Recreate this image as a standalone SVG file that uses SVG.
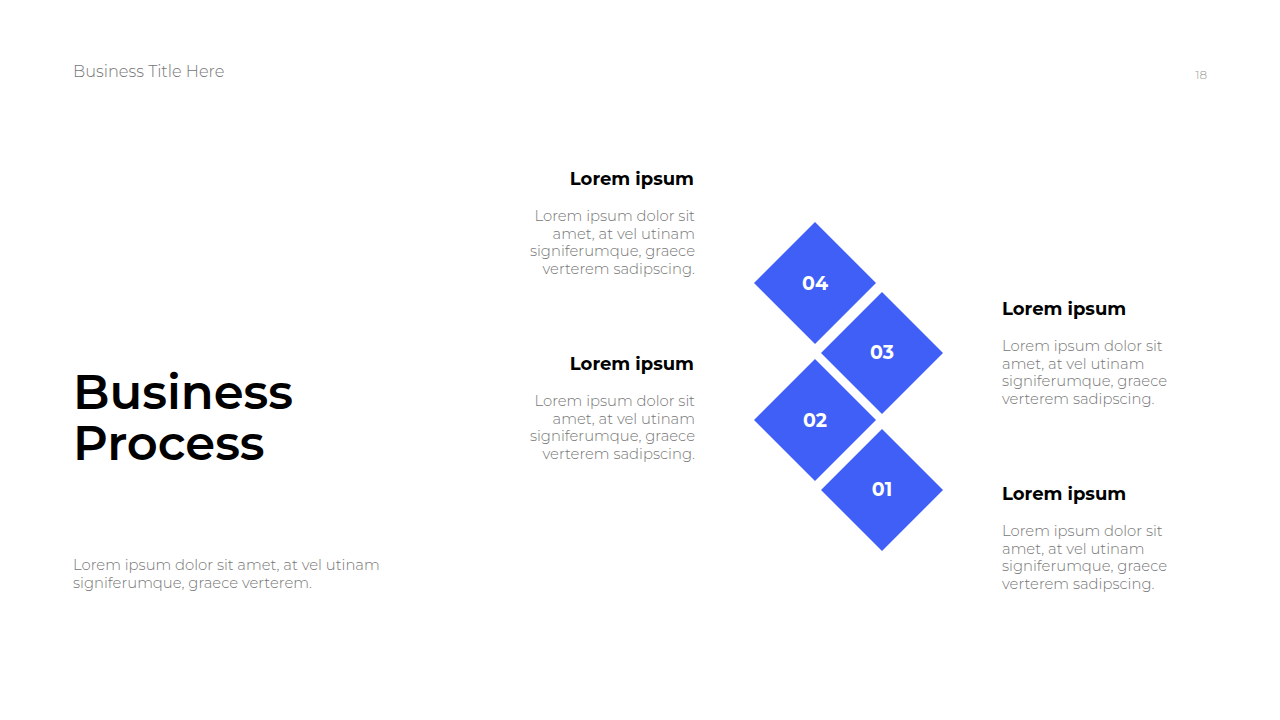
<svg xmlns="http://www.w3.org/2000/svg" width="1280" height="720" viewBox="0 0 1280 720">
<style>
.f{font-family:Montserrat,"Open Sans","Noto Sans","Liberation Sans",sans-serif}
.body{font-size:14.8px;font-weight:300;fill:#767676}
.head{font-size:18px;font-weight:700;fill:#000}
.num{font-size:19px;font-weight:700;fill:#fff;text-anchor:middle}
.dia{fill:#3f5ff6}
.r{text-anchor:end}
</style>
<rect width="1280" height="720" fill="#fff"/>
<text class="f" x="73" y="77" font-size="16.2" font-weight="300" fill="#767676">Business Title Here</text>
<text class="f" x="1207" y="79" font-size="12" font-weight="300" fill="#9a9a9a" text-anchor="end">18</text>
<g id="title">
<text class="f" x="73" y="409" font-size="48" font-weight="600" fill="#000">Business</text>
<text class="f" x="73" y="460" font-size="48" font-weight="600" fill="#000">Process</text>
</g>
<text class="f body" x="73" y="570">Lorem ipsum dolor sit amet, at vel utinam</text>
<text class="f body" x="73" y="588">signiferumque, graece verterem.</text>
<g id="connectors"></g>
<g id="step04">
<polygon class="dia" points="815,222 876,283 815,344 754,283"/>
<text class="f num" x="815" y="290">04</text>
</g>
<g id="step03">
<polygon class="dia" points="882,292 943,353 882,414 821,353"/>
<text class="f num" x="882" y="359">03</text>
</g>
<g id="step02">
<polygon class="dia" points="815,359 876,420 815,481 754,420"/>
<text class="f num" x="815" y="427">02</text>
</g>
<g id="step01">
<polygon class="dia" points="882,429 943,490 882,551 821,490"/>
<text class="f num" x="882" y="496">01</text>
</g>
<g id="text04">
<text class="f head r" x="694" y="185">Lorem ipsum</text>
<text class="f body r" x="695" y="221">Lorem ipsum dolor sit</text>
<text class="f body r" x="695" y="238.5">amet, at vel utinam</text>
<text class="f body r" x="695" y="256">signiferumque, graece</text>
<text class="f body r" x="695" y="273.5">verterem sadipscing.</text>
</g>
<g id="text02">
<text class="f head r" x="694" y="370">Lorem ipsum</text>
<text class="f body r" x="695" y="406">Lorem ipsum dolor sit</text>
<text class="f body r" x="695" y="423.5">amet, at vel utinam</text>
<text class="f body r" x="695" y="441">signiferumque, graece</text>
<text class="f body r" x="695" y="458.5">verterem sadipscing.</text>
</g>
<g id="text03">
<text class="f head" x="1002" y="315">Lorem ipsum</text>
<text class="f body" x="1002" y="351">Lorem ipsum dolor sit</text>
<text class="f body" x="1002" y="368.5">amet, at vel utinam</text>
<text class="f body" x="1002" y="386">signiferumque, graece</text>
<text class="f body" x="1002" y="403.5">verterem sadipscing.</text>
</g>
<g id="text01">
<text class="f head" x="1002" y="500">Lorem ipsum</text>
<text class="f body" x="1002" y="536">Lorem ipsum dolor sit</text>
<text class="f body" x="1002" y="553.5">amet, at vel utinam</text>
<text class="f body" x="1002" y="571">signiferumque, graece</text>
<text class="f body" x="1002" y="588.5">verterem sadipscing.</text>
</g>
</svg>
